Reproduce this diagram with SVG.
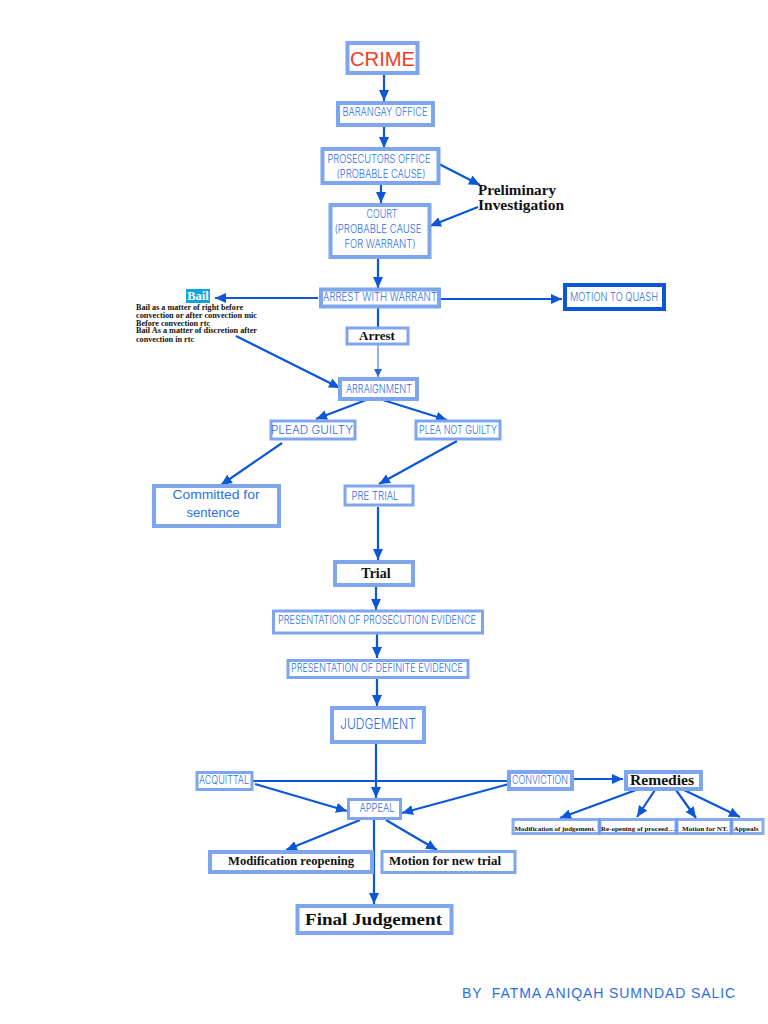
<svg xmlns="http://www.w3.org/2000/svg" width="768" height="1024" viewBox="0 0 768 1024">
<style>
.b{fill:#fff;stroke:#7ea6ee;stroke-width:4}
.d{fill:#fff;stroke:#0b57d8;stroke-width:4}
.s{fill:#fff;stroke:#7ea6ee;stroke-width:3}
.t{fill:none;stroke:#5f90ea;stroke-opacity:.75;stroke-width:3}
text{text-anchor:middle}
.h{font-family:"Inter","Liberation Sans",sans-serif;font-weight:300;fill:#2b6fe6;font-size:11px}
.r{font-family:"Liberation Serif",serif;font-weight:700;fill:#111}
.c{fill:none;stroke:#0b57d8;stroke-width:2.200;marker-end:url(#a)}
.l{fill:none;stroke:#0b57d8;stroke-width:2.200}
.n{fill:none;stroke:#2a66d0;stroke-width:1;marker-end:url(#m)}
</style>
<defs>
<marker id="a" markerUnits="userSpaceOnUse" markerWidth="12" markerHeight="10" refX="11" refY="5" orient="auto"><path d="M0 0L11 5L0 10z" fill="#0b57d8"/></marker>
<marker id="m" markerUnits="userSpaceOnUse" markerWidth="9" markerHeight="8" refX="8" refY="4" orient="auto"><path d="M0 0L8 4L0 8z" fill="#2a66d0"/></marker>
</defs>
<g id="connectors">
<path class="c" d="M384 74V101"/>
<path class="c" d="M384 126V148"/>
<path class="c" d="M381 184V203"/>
<path class="c" d="M439 164L480 185"/>
<path class="c" d="M478 207L430 226"/>
<path class="c" d="M378 258V288"/>
<path class="c" d="M318 298H215"/>
<path class="c" d="M439 299H562"/>
<path class="l" d="M378 307V328"/>
<path class="n" d="M378 345V377"/>
<path class="c" d="M236 336L340 388"/>
<path class="c" d="M366 400L316 419"/>
<path class="c" d="M383 400L447 420"/>
<path class="c" d="M282 443L221 485"/>
<path class="c" d="M457 441L379 484"/>
<path class="c" d="M378 507V560"/>
<path class="c" d="M376 587V610"/>
<path class="c" d="M377 634V658"/>
<path class="c" d="M377 679V706"/>
<path class="c" d="M376 743V798"/>
<path class="l" d="M252 781H509"/>
<path class="c" d="M255 784L347 811"/>
<path class="c" d="M509 784L402 813"/>
<path class="c" d="M573 779H623"/>
<path class="c" d="M636 790L560 818"/>
<path class="c" d="M655 790L637 817"/>
<path class="c" d="M676 790L696 818"/>
<path class="c" d="M684 790L740 817"/>
<path class="c" d="M360 820L286 850"/>
<path class="c" d="M386 820L437 850"/>
<path class="c" d="M374 820V904"/>
</g>
<g id="crime"><rect class="b" x="347.500" y="43" width="70" height="30"/><text x="382.500" y="66" textLength="65" lengthAdjust="spacingAndGlyphs" style="font-family:'Liberation Sans',sans-serif;font-size:21px;fill:#f0401f">CRIME</text></g>
<g id="barangay"><rect class="b" x="338" y="103" width="95" height="22"/><text class="h" x="385" y="116" textLength="85" lengthAdjust="spacingAndGlyphs">BARANGAY OFFICE</text></g>
<g id="prosecutors"><rect class="b" x="322.500" y="149" width="116" height="34"/><text class="h" x="379" y="163" textLength="103" lengthAdjust="spacingAndGlyphs">PROSECUTORS OFFICE</text><text class="h" x="381" y="178" textLength="89" lengthAdjust="spacingAndGlyphs">(PROBABLE CAUSE)</text></g>
<g id="preliminary"><text class="r" x="517" y="195" font-size="15" textLength="78" lengthAdjust="spacingAndGlyphs">Preliminary</text><text class="r" x="521" y="210" font-size="15" textLength="86" lengthAdjust="spacingAndGlyphs">Investigation</text></g>
<g id="court"><rect class="b" x="330.500" y="205" width="99" height="52"/><text class="h" x="382" y="218" textLength="31" lengthAdjust="spacingAndGlyphs">COURT</text><text class="h" x="378" y="233" textLength="87" lengthAdjust="spacingAndGlyphs">(PROBABLE CAUSE</text><text class="h" x="380" y="248" textLength="71" lengthAdjust="spacingAndGlyphs">FOR WARRANT)</text></g>
<g id="arrest-warrant"><rect class="b" x="321" y="289.500" width="118" height="17"/><text class="h" x="380" y="301" textLength="114" lengthAdjust="spacingAndGlyphs">ARREST WITH WARRANT</text></g>
<g id="motion-quash"><rect class="d" x="565" y="285" width="99" height="24"/><text class="h" x="614" y="301" textLength="88" lengthAdjust="spacingAndGlyphs">MOTION TO QUASH</text></g>
<g id="bail"><rect x="186" y="289" width="24" height="14" fill="#0ea5d8"/><text x="198" y="300" style="font-family:'Liberation Serif',serif;font-weight:700;font-size:12.500px;fill:#fff">Bail</text>
<g class="r" font-size="8"><text x="136" y="310" textLength="107" lengthAdjust="spacingAndGlyphs" style="text-anchor:start">Bail as a matter of right before</text><text x="136" y="318" textLength="121" lengthAdjust="spacingAndGlyphs" style="text-anchor:start">convection or after convection mic</text><text x="136" y="326" textLength="74" lengthAdjust="spacingAndGlyphs" style="text-anchor:start">Before convection rtc</text><text x="136" y="333" textLength="121" lengthAdjust="spacingAndGlyphs" style="text-anchor:start">Bail As a matter of discretion after</text><text x="136" y="342" textLength="58" lengthAdjust="spacingAndGlyphs" style="text-anchor:start">convection in rtc</text></g></g>
<g id="arrest"><rect class="s" x="347" y="328" width="61" height="16"/><text class="r" x="377" y="340" font-size="13">Arrest</text></g>
<g id="arraignment"><rect class="b" x="340" y="379" width="77" height="20"/><text class="h" x="379" y="393" textLength="66" lengthAdjust="spacingAndGlyphs">ARRAIGNMENT</text></g>
<g id="plead-guilty"><rect class="s" x="271" y="421" width="84" height="18"/><text class="h" x="312" y="434" textLength="82" lengthAdjust="spacingAndGlyphs">PLEAD GUILTY</text></g>
<g id="plea-not"><rect class="s" x="416" y="421" width="84" height="18"/><text class="h" x="458" y="434" textLength="78" lengthAdjust="spacingAndGlyphs">PLEA NOT GUILTY</text></g>
<g id="committed"><rect class="b" x="154" y="486" width="125" height="40"/><text x="216" y="499" textLength="87" lengthAdjust="spacingAndGlyphs" style="font-family:'Liberation Sans',sans-serif;font-size:13px;fill:#2b6fe6">Committed for</text><text x="213" y="517" style="font-family:'Liberation Sans',sans-serif;font-size:13px;fill:#2b6fe6">sentence</text></g>
<g id="pre-trial"><rect class="s" x="345" y="486" width="68" height="19"/><text class="h" x="375" y="500" textLength="47" lengthAdjust="spacingAndGlyphs">PRE TRIAL</text></g>
<g id="trial"><rect class="b" x="335" y="562" width="78" height="23"/><text class="r" x="376" y="578" font-size="14">Trial</text></g>
<g id="prosecution"><rect class="s" x="273.500" y="611" width="209" height="22"/><text class="h" x="377" y="624" textLength="198" lengthAdjust="spacingAndGlyphs">PRESENTATION OF PROSECUTION EVIDENCE</text></g>
<g id="definite"><rect class="s" x="288" y="660.500" width="180" height="17"/><text class="h" x="377" y="672" textLength="172" lengthAdjust="spacingAndGlyphs">PRESENTATION OF DEFINITE EVIDENCE</text></g>
<g id="judgement"><rect class="b" x="332" y="708" width="92" height="34"/><text class="h" x="378" y="729" textLength="76" lengthAdjust="spacingAndGlyphs" style="font-size:15px">JUDGEMENT</text></g>
<g id="acquittal"><rect class="s" x="197" y="772.500" width="55" height="17"/><text class="h" x="224" y="784" textLength="50" lengthAdjust="spacingAndGlyphs">ACQUITTAL</text></g>
<g id="appeal"><rect class="s" x="348.500" y="799.500" width="52" height="19"/><text class="h" x="377" y="812" textLength="35" lengthAdjust="spacingAndGlyphs">APPEAL</text></g>
<g id="conviction"><rect class="b" x="509" y="772" width="63" height="17"/><text class="h" x="540" y="784" textLength="56" lengthAdjust="spacingAndGlyphs">CONVICTION</text></g>
<g id="remedies"><rect class="b" x="626" y="772" width="75" height="17"/><text class="r" x="662" y="785" font-size="14.500" textLength="64" lengthAdjust="spacingAndGlyphs">Remedies</text></g>
<g id="mod-j"><rect class="t" x="513" y="819.500" width="86" height="14"/><text class="r" x="555" y="831" font-size="7" textLength="81" lengthAdjust="spacingAndGlyphs">Modification of judgement.</text></g>
<g id="reopen"><rect class="t" x="600" y="819.500" width="76" height="14"/><text class="r" x="638" y="831" font-size="7" textLength="74" lengthAdjust="spacingAndGlyphs">Re-opening of proceed…</text></g>
<g id="nt"><rect class="t" x="677" y="819.500" width="54" height="14"/><text class="r" x="705" y="831" font-size="7" textLength="46" lengthAdjust="spacingAndGlyphs">Motion for NT.</text></g>
<g id="appeals"><rect class="t" x="732" y="819.500" width="31" height="14"/><text class="r" x="746" y="831" font-size="7" textLength="25" lengthAdjust="spacingAndGlyphs">Appeals</text></g>
<g id="mod-reopen"><rect class="b" x="210" y="852" width="162" height="20"/><text class="r" x="291" y="865" font-size="12.500" textLength="126" lengthAdjust="spacingAndGlyphs">Modification reopening</text></g>
<g id="new-trial"><rect class="s" x="382" y="851.500" width="133" height="21"/><text class="r" x="445" y="865" font-size="12.500" textLength="112" lengthAdjust="spacingAndGlyphs">Motion for new trial</text></g>
<g id="final"><rect class="b" x="297.500" y="906" width="154" height="27"/><text class="r" x="373.500" y="925" font-size="17.500" textLength="137" lengthAdjust="spacingAndGlyphs">Final Judgement</text></g>
<text x="599" y="998" style="font-family:'Liberation Sans',sans-serif;font-size:14px;letter-spacing:.9px;fill:#2b6fe6" xml:space="preserve">BY  FATMA ANIQAH SUMNDAD SALIC</text>
</svg>
